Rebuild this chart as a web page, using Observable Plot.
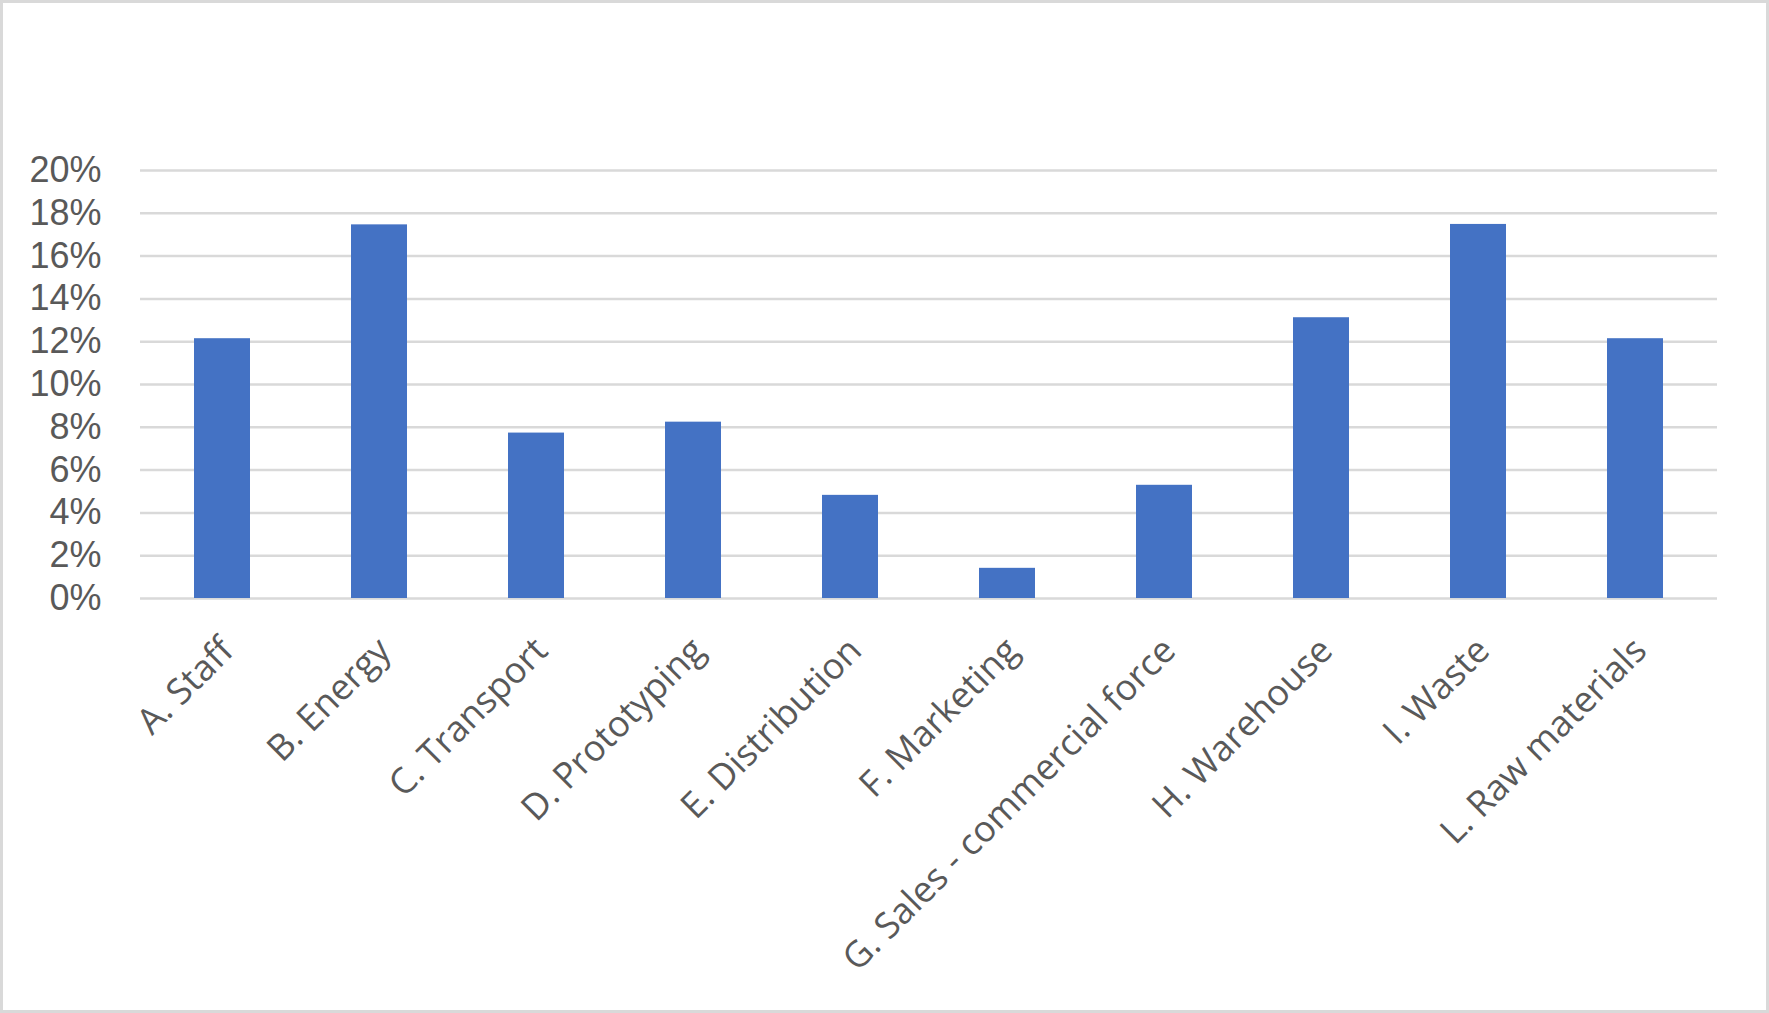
<!DOCTYPE html>
<html>
<head>
<meta charset="utf-8">
<script src="https://cdn.jsdelivr.net/npm/d3@7"></script>
<script src="https://cdn.jsdelivr.net/npm/@observablehq/plot@0.6"></script>
<style>
  html, body { margin: 0; padding: 0; background: #fff; }
  #frame { box-sizing: border-box; width: 1769px; height: 1013px; border: 3px solid #d9d9d9; background: #fff; overflow: hidden; }
  #frame svg { display: block; }
</style>
</head>
<body>
<div id="frame"></div>
<script>
const categories = [
  "A. Staff", "B. Energy", "C. Transport", "D. Prototyping", "E. Distribution",
  "F. Marketing", "G. Sales - commercial force", "H. Warehouse", "I. Waste", "L. Raw materials"
];
const values = [0.1214, 0.1746, 0.0773, 0.0824, 0.0482, 0.0141, 0.0529, 0.1312, 0.1748, 0.1214];
const yTicks = [0, 0.02, 0.04, 0.06, 0.08, 0.10, 0.12, 0.14, 0.16, 0.18, 0.20];

const data = categories.map((c, i) => ({category: c, value: values[i]}));

const chart = Plot.plot({
  width: 1763,
  height: 1007,
  marginLeft: 137,
  marginRight: 49,
  marginTop: 167,
  marginBottom: 412,
  style: {fontFamily: "'Open Sans', sans-serif", fontSize: "36px", color: "#595959", background: "#fff"},
  x: {domain: categories, paddingInner: 0.645, paddingOuter: 0.3225, label: null},
  y: {domain: [0, 0.2], label: null},
  marks: [
    Plot.gridY(yTicks, {stroke: "#d9d9d9", strokeOpacity: 1, strokeWidth: 2.5}),
    Plot.barY(data, {x: "category", y: "value", fill: "#4472C4"}),
    Plot.axisY(yTicks, {tickSize: 0, tickPadding: 39, tickFormat: d3.format(".0%"), fill: "#595959", fontSize: 36, fontFamily: "'Liberation Sans', Arial, sans-serif", label: null}),
    Plot.axisX({tickSize: 0, tickRotate: -45, tickPadding: 46, dx: 5, fill: "#595959", fontSize: 36, label: null})
  ]
});
document.getElementById("frame").appendChild(chart);
</script>
</body>
</html>
